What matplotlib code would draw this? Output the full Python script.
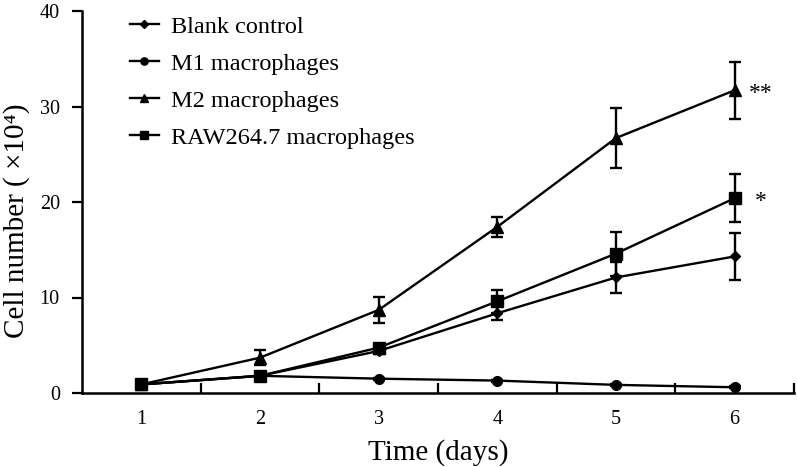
import matplotlib
matplotlib.use("Agg")
import matplotlib.pyplot as plt
from matplotlib.lines import Line2D

plt.rcParams['font.family'] = ['Liberation Serif', 'DejaVu Serif']

days = [1, 2, 3, 4, 5, 6]
blank = [0.9, 1.8, 4.4, 8.35, 12.1, 14.3]
blank_err = [0, 0.2, 0.3, 0.75, 1.6, 2.5]
m1 = [0.9, 1.8, 1.5, 1.3, 0.85, 0.6]
m1_err = [0, 0.1, 0.1, 0.1, 0.1, 0.1]
m2 = [0.9, 3.7, 8.7, 17.4, 26.7, 31.7]
m2_err = [0, 0.8, 1.4, 1.05, 3.1, 3.0]
raw = [0.9, 1.8, 4.75, 9.6, 14.6, 20.4]
raw_err = [0, 0.2, 0.3, 1.2, 2.3, 2.5]
labels = ["Blank control", "M1 macrophages", "M2 macrophages", "RAW264.7 macrophages"]
annotations = ["**", "*"]

fig = plt.figure(figsize=(7.97, 4.67), dpi=100)
ax = fig.add_axes([82/797, (467-393)/467, (794-82)/797, (393-11)/467])

series = [(blank, blank_err, 'D', 5), (m1, m1_err, 'o', 7), (m2, m2_err, '^', 8), (raw, raw_err, 's', 8)]
handles = []
for (vals, err, mk, ms), lab in zip(series, labels):
    ax.errorbar(days, vals, yerr=err, color='black', marker=mk, markersize=ms,
                lw=1.7, elinewidth=1.7, capsize=4, capthick=1.7)
    handles.append(Line2D([], [], color='black', marker=mk, markersize=ms * 0.75, lw=1.7, label=lab))

ax.text(6.12, m2[-1] - 0.3, annotations[0], fontsize=17, va='center', ha='left')
ax.text(6.17, raw[-1] - 0.3, annotations[1], fontsize=17, va='center', ha='left')

ax.set_xlim(0.5, 6.5)
ax.set_ylim(0, 40)
ax.set_yticks([0, 10, 20, 30, 40])
ax.set_xticks(days)
ax.set_xticks([1.5, 2.5, 3.5, 4.5, 5.5, 6.5], minor=True)
ax.tick_params(axis='x', which='major', length=0, labelsize=14.5, pad=12)
ax.tick_params(axis='x', which='minor', length=7, width=1.6, direction='in')
ax.tick_params(axis='y', length=7, width=1.6, direction='out', labelsize=14.5, pad=9)
for s in ['top', 'right']:
    ax.spines[s].set_visible(False)
for s in ['left', 'bottom']:
    ax.spines[s].set_linewidth(1.8)

ax.set_xlabel("Time (days)", fontsize=21, va='center')
ax.xaxis.set_label_coords(0.5, (393 - 453) / 382)
ax.set_ylabel("Cell number ( ×10⁴)", fontsize=21, va='center')
ax.yaxis.set_label_coords((17 - 82) / 712, (393 - 221) / 382)

leg = ax.legend(handles=handles, loc='upper left', bbox_to_anchor=(0.036, 1.045), frameon=False,
                fontsize=17.5, handlelength=1.2, labelspacing=0.62, handletextpad=0.5)

fig.savefig("out.png", dpi=100)
